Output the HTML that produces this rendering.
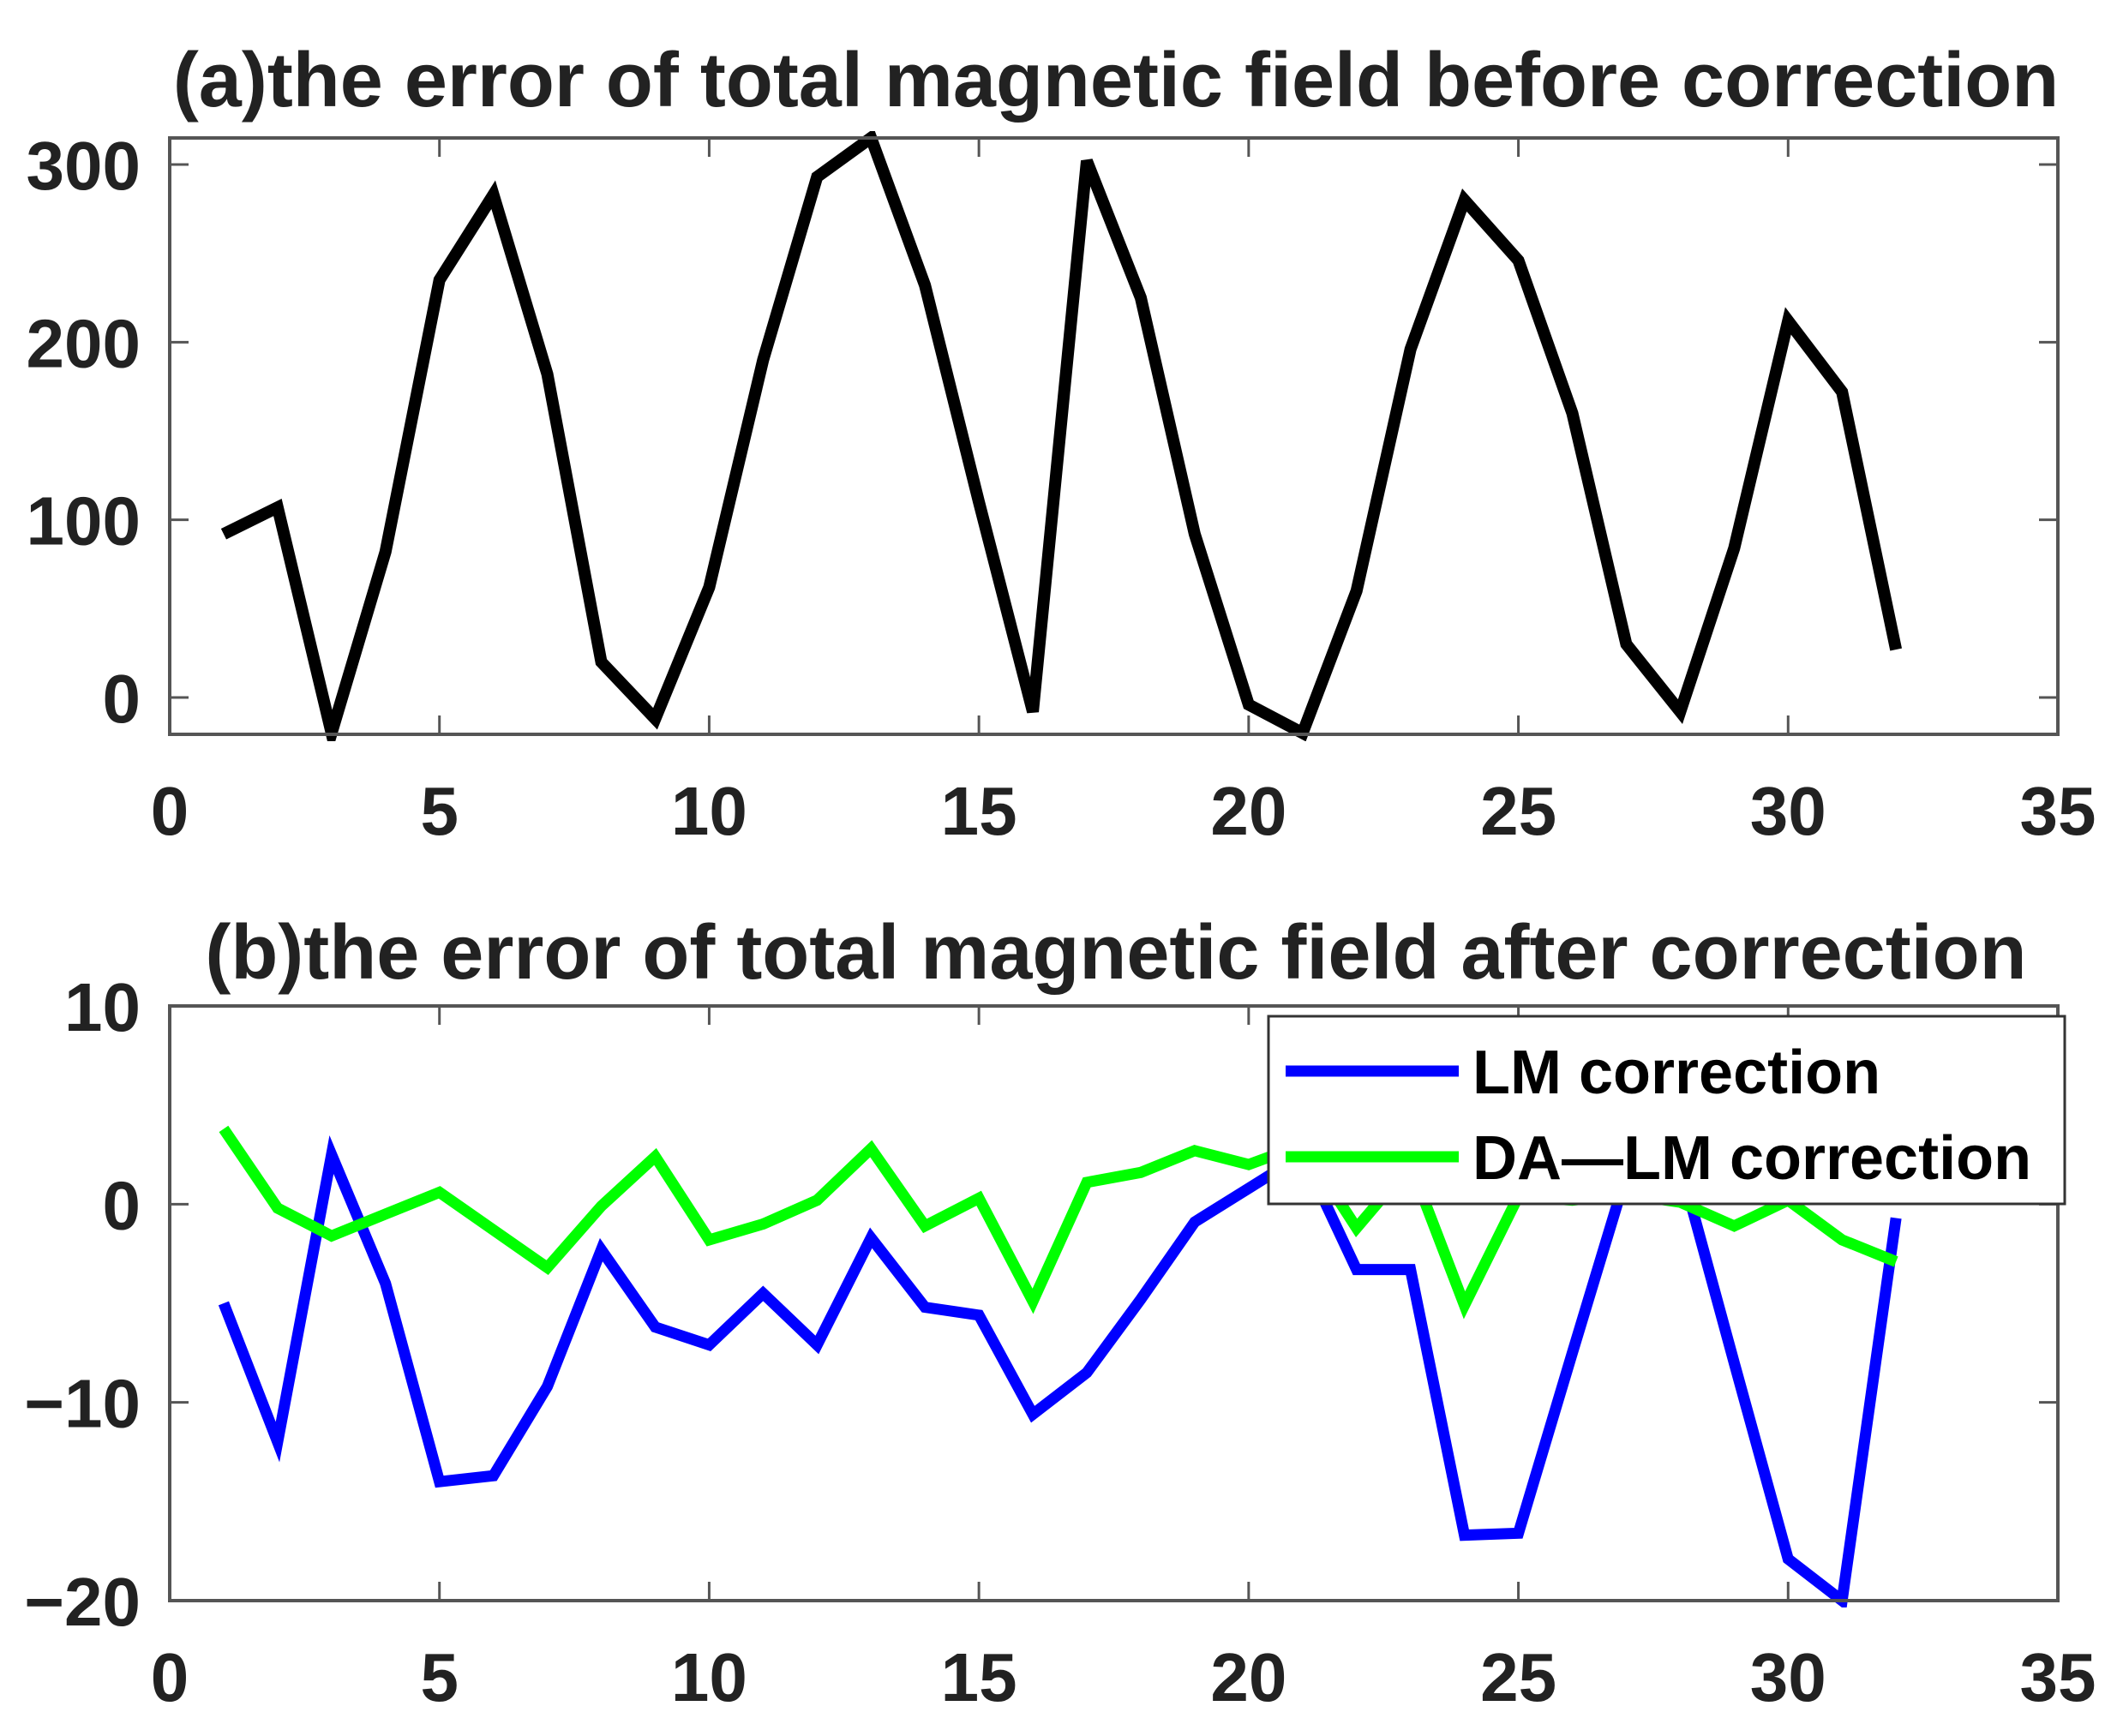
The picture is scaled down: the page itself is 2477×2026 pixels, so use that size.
<!DOCTYPE html>
<html><head><meta charset="utf-8"><style>
html,body{margin:0;padding:0;background:#fff;}
svg{display:block;}
text{font-family:"Liberation Sans",Arial,sans-serif;font-weight:bold;fill:#222;}
</style></head><body>
<svg id="s" width="2477" height="2026" viewBox="0 0 2477 2026" xmlns="http://www.w3.org/2000/svg"></svg>
<script>
const s=document.getElementById('s');let h='';
const L=198,R=2401,xs=x=>L+(R-L)*x/35;
const aT=161,aB=857,ay=v=>814-v*(814-192)/300;
const bT=1174,bB=1868,by=v=>bB-(v+20)*(bB-bT)/30;
function axes(T,B,yt,yf,lab){
  for(let x=0;x<=35;x+=5){const X=xs(x);
    if(x>0&&x<35){h+=`<line x1="${X}" y1="${B}" x2="${X}" y2="${B-22}" stroke="#555" stroke-width="3"/><line x1="${X}" y1="${T}" x2="${X}" y2="${T+22}" stroke="#555" stroke-width="3"/>`;}
    h+=`<text x="${X}" y="${B+117}" font-size="80" text-anchor="middle">${x}</text>`;}
  yt.forEach(v=>{const Y=yf(v);
    h+=`<line x1="${L}" y1="${Y}" x2="${L+22}" y2="${Y}" stroke="#555" stroke-width="3"/><line x1="${R}" y1="${Y}" x2="${R-22}" y2="${Y}" stroke="#555" stroke-width="3"/>`;
    h+=`<text x="${L-34}" y="${Y+29}" font-size="80" text-anchor="end">${lab(v)}</text>`;});
}
function line(d,yf,c,w){h+=`<polyline fill="none" stroke="${c}" stroke-width="${w}" stroke-linejoin="miter" points="${d.map((v,i)=>xs(i+1)+','+yf(v)).join(' ')}"/>`;}
const A=[92,107,-20,82,235,283,182,20,-12,62,190,293,315,232,110,-8,302,225,92,-4,-20,60,196,280,246,160,30,-8,84,212,172,27];
const LM=[-5,-12,2.5,-4,-14,-13.7,-9.2,-2.3,-6.2,-7.1,-4.5,-7.1,-1.7,-5.2,-5.6,-10.6,-8.5,-4.8,-0.9,0.8,2.5,-3.3,-3.3,-16.7,-16.6,-7.5,1.5,2,-8,-17.9,-20,-0.7];
const DA=[3.8,-0.2,-1.6,-0.5,0.6,-1.3,-3.2,-0.1,2.4,-1.8,-1,0.2,2.8,-1.1,0.3,-4.9,1.1,1.6,2.7,2,3,-1.2,2,-5.1,0.4,0.2,0.5,0.1,-1.1,0.2,-1.8,-2.9];
h+=`<defs><clipPath id="ca"><rect x="${L}" y="${aT-8}" width="${R-L}" height="${aB-aT+16}"/></clipPath><clipPath id="cb"><rect x="${L}" y="${bT}" width="${R-L}" height="${bB-bT+8}"/></clipPath></defs>`;
axes(aT,aB,[0,100,200,300],ay,v=>v);
h+=`<g clip-path="url(#ca)">`;line(A,ay,'#000',14);h+=`</g>`;
h+=`<rect x="${L}" y="${aT}" width="${R-L}" height="${aB-aT}" fill="none" stroke="#555" stroke-width="4"/>`;
h+=`<text x="1302" y="124" font-size="90" text-anchor="middle">(a)the error of total magnetic field before correction</text>`;
axes(bT,bB,[-20,-10,0,10],by,v=>v<0?'\u2212'+(-v):v);
h+=`<g clip-path="url(#cb)">`;line(LM,by,'#0000ff',13);line(DA,by,'#00ff00',13);h+=`</g>`;
h+=`<rect x="${L}" y="${bT}" width="${R-L}" height="${bB-bT}" fill="none" stroke="#555" stroke-width="4"/>`;
h+=`<text x="1302" y="1142" font-size="90" text-anchor="middle">(b)the error of total magnetic field after correction</text>`;
h+=`<rect x="1480" y="1186" width="929" height="219" fill="#fff" stroke="#333" stroke-width="3"/>`;
h+=`<line x1="1500" y1="1250" x2="1702" y2="1250" stroke="#0000ff" stroke-width="13"/>`;
h+=`<line x1="1500" y1="1350" x2="1702" y2="1350" stroke="#00ff00" stroke-width="13"/>`;
h+=`<text x="1718" y="1276" font-size="72" style="fill:#000">LM correction</text>`;
h+=`<text x="1718" y="1376" font-size="72" style="fill:#000">DA\u2014LM correction</text>`;
s.innerHTML=h;
</script>
</body></html>
